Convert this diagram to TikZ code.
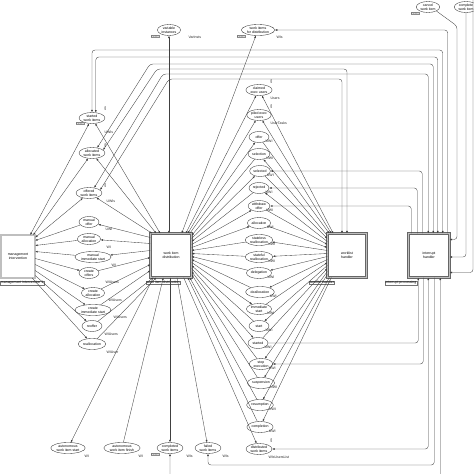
\documentclass[tikz,border=0pt]{standalone}
\usepackage{fontspec}
\setmainfont{Liberation Sans}
\usetikzlibrary{calc,arrows.meta,shapes.geometric}
\begin{document}
\begin{tikzpicture}[x=1pt,y=-1pt,
  every node/.style={font=\fontsize{3.5}{3.9}\selectfont},
  place/.style={draw=black!80, ellipse, line width=0.35pt, inner xsep=0.8pt, inner ysep=0.3pt, minimum width=20pt, minimum height=11pt, align=center, fill=white},
  trans/.style={draw=black!60, line width=0.4pt, double=black!25, double distance=1.6pt, minimum width=40pt, minimum height=44pt, align=center, fill=white},
  tagbox/.style={draw=black!55, line width=0.3pt, inner sep=0.5pt, fill=white, anchor=north west},
  ftag/.style={tagbox, draw=black!45, text=black!70, inner sep=0.3pt, font=\fontsize{2.4}{2.6}\selectfont},
  lbl/.style={inner sep=0.3pt, text=black!85},
  arc/.style={draw=black!75, line width=0.35pt, -{Latex[length=2.4pt,width=1.9pt]}},
  arcs/.style={draw=black!75, line width=0.35pt, {Latex[length=2.4pt,width=1.9pt]}-{Latex[length=2.4pt,width=1.9pt]}},
  route/.style={rounded corners=3pt},
]
\useasboundingbox (0,0) rectangle (474,474);
\fill[white] (0,0) rectangle (474,474);

% ---------- substitution transitions
\node[trans, minimum width=34pt, minimum height=43pt] (mi) at (18,256.5) {management\\intervention};
\node[trans, minimum width=41pt] (wid) at (171,255.5) {work item\\distribution};
\node[trans, minimum width=39pt] (wlh) at (347,255.5) {worklist\\handler};
\node[trans, minimum width=41pt] (ih) at (429,255.5) {interrupt\\handler};

% ---------- top places
\node[place] (vi) at (169,30) {variable\\instances};
\node[place] (wfd) at (258,30) {work items\\for distribution};
\node[place] (cwk) at (428,7) {cancel\\work item};
\node[place] (cmp) at (466,7) {complete\\work item};

% ---------- left column
\node[place] (swi) at (92,118) {started\\work items};
\node[place] (awi) at (92,153) {allocated\\work items};
\node[place] (owi) at (89,193) {offered\\work items};
\node[place] (mo) at (89,222) {manual\\offer};
\node[place] (ma) at (89,239) {manual\\allocation};
\node[place] (mis) at (93,257) {manual\\immediate start};
\node[place] (co) at (89,273) {create\\offers};
\node[place] (ca) at (93,293) {create\\allocation};
\node[place] (cis) at (93,310) {create\\immediate start};
\node[place] (ro) at (92,326) {reoffer};
\node[place] (ra) at (92,344) {reallocation};

% ---------- middle column
\node[place] (claimed) at (259,90) {claimed\\exec users};
\node[place] (piled) at (259,115) {piled exec\\users};
\node[place] (offer) at (259,137) {offer};
\node[place] (selection) at (259,154) {selection};
\node[place] (selected) at (260,171) {selected};
\node[place] (rejected) at (259,188) {rejected};
\node[place] (withdraw) at (259,206) {withdraw\\offer};
\node[place] (allocation) at (259,223) {allocation};
\node[place] (stateless) at (259,240) {stateless\\reallocation};
\node[place] (stateful) at (259,257) {stateful\\reallocation};
\node[place] (delegation) at (259,273) {delegation};
\node[place] (deallocation) at (260,292) {deallocation};
\node[place] (immstart) at (259,309) {immediate\\start};
\node[place] (start) at (259,326) {start};
\node[place] (startedm) at (258,343) {started};
\node[place] (stopexec) at (261,364) {stop\\execution};
\node[place] (suspension) at (261,383) {suspension};
\node[place] (resumption) at (260,405) {resumption};
\node[place] (completion) at (260,427) {completion};

% ---------- bottom places
\node[place] (aws) at (68,448) {autonomous\\work item start};
\node[place] (awf) at (122,448) {autonomous\\work item finish};
\node[place] (cwi) at (170,448) {completed\\work items};
\node[place] (fwi) at (208,448) {failed\\work items};
\node[place] (dwi) at (259,449) {distributed\\work items};

% ---------- tags of the transitions
\node[tagbox] (mitag) at (0.3,280.5) {management intervention 1};
\node[tagbox] (widtag) at (146,280.5) {work item distribution};
\node[tagbox] (wlhtag) at (309,280.5) {worklist handler};
\node[tagbox] (ihtag) at (385,280.5) {interrupt processing};

% ---------- fusion tags
\node[ftag] (vitag) at (151,35) {Fusion};
\node[ftag] (wfdtag) at (237,35) {Fusion};
\node[ftag] (cwktag) at (411,12) {Fusion};
\node[ftag] (switag) at (76,122) {Fusion};
\node[ftag] (cwitag) at (151,453) {Fusion};

% ---------- middle arcs (1: WID->p->WLH, 2: WLH->p->WID, 3: both ways)
\foreach \p/\lx/\ly/\rx/\ry/\m in {
  claimed/-6/-22/6/-22/3, piled/-4/-22/4/-22/3, offer/-2/-22/2/-22/1,
  selection/0/-20/0/-20/2, selected/0/-17/0/-17/1, rejected/0/-14/0/-14/2,
  withdraw/0/-11/0/-11/1, allocation/0/-8/0/-8/1, stateless/0/-5/0/-5/2,
  stateful/0/-2/0/-2/2, delegation/0/1/0/1/2, deallocation/0/4/0/4/2,
  immstart/0/7/0/7/1, start/0/10/0/10/2, startedm/0/13/0/13/1,
  stopexec/0/16/0/16/2, suspension/0/19/0/19/2, resumption/-2/22/2/22/2,
  completion/-4/22/4/22/2}{
  \ifcase\m\or
    \draw[arc] ($(wid.east)+(\lx,\ly)$) -- (\p);
    \draw[arc] (\p) -- ($(wlh.west)+(\rx,\ry)$);
  \or
    \draw[arc] ($(wlh.west)+(\rx,\ry)$) -- (\p);
    \draw[arc] (\p) -- ($(wid.east)+(\lx,\ly)$);
  \or
    \draw[arcs] ($(wid.east)+(\lx,\ly)$) -- (\p);
    \draw[arcs] (\p) -- ($(wlh.west)+(\rx,\ry)$);
  \fi
}

% ---------- left arcs (1: MI->p->WID, 2: WID->p->MI, 3: both ways)
\foreach \p/\lx/\ly/\rx/\ry/\m in {
  swi/-5/-21.5/10/-22/3, awi/-2/-21.5/6/-22/3, owi/0/-19/2/-22/3,
  mo/0/-16/0/-18/2, ma/0/-11/0/-12/2, mis/0/-5/0/-5/2,
  co/0/2/0/2/1, ca/0/8/0/9/1, cis/0/14/0/15/1,
  ro/0/19/3/22/1, ra/-3/21.5/6/22/1}{
  \ifcase\m\or
    \draw[arc] ($(mi.east)+(\lx,\ly)$) -- (\p);
    \draw[arc] (\p) -- ($(wid.west)+(\rx,\ry)$);
  \or
    \draw[arc] ($(wid.west)+(\rx,\ry)$) -- (\p);
    \draw[arc] (\p) -- ($(mi.east)+(\lx,\ly)$);
  \or
    \draw[arcs] ($(mi.east)+(\lx,\ly)$) -- (\p);
    \draw[arcs] (\p) -- ($(wid.west)+(\rx,\ry)$);
  \fi
}

% ---------- top and bottom arcs of the work item distribution
\draw[arcs] (vi) -- (vi |- wid.north);
\draw[arcs] (wfd) -- ($(wid.north east)+(-10,0)$);
\draw[arc] ($(wid.south west)+(3,0)$) -- (aws);
\draw[arc] (awf) -- ($(wid.south west)+(13,0)$);
\draw[arc] (wid.south -| cwi) -- (cwi);
\draw[arc] ($(wid.south)+(6,0)$) -- (fwi);
\draw[arc] ($(wid.south east)+(-8,0)$) -- (dwi);

% ---------- long routed arcs from the top of the handlers
\draw[arc, route] ($(ih.north east)+(-2,0)$) |- (wfd.east);
\draw[arcs, route] ($(ih.north east)+(-7,0)$) |- (swi.north |- 0,50) -- (swi.north);
\draw[arcs, route] ($(ih.north east)+(-12,0)$) |- (swi.55 |- 0,57) -- (swi.55);
\draw[arcs, route] ($(ih.north west)+(25,0)$) |- (150,64) -- (awi.45);
\draw[arcs, route] (wlh.north) |- (157,69) -- (awi.15);
\draw[arcs, route] ($(ih.north west)+(20,0)$) |- (163,74) -- (owi.45);
\draw[arcs, route] ($(wlh.north)+(-5,0)$) |- (169,79) -- (owi.15);
\draw[arc, route] ($(ih.north west)+(14,0)$) |- (selected.east);
\draw[arc, route] ($(ih.north west)+(9,0)$) |- (rejected.east);
\draw[arc, route] ($(ih.north west)+(3,0)$) |- (withdraw.east);

% ---------- routed arcs below the interrupt handler
\draw[arc, route] (startedm.east) -| ($(ih.south west)+(10,0)$);
\draw[arc, route] ($(ih.south west)+(15,0)$) |- (stopexec.east);
\draw[arcs, route] ($(ih.south west)+(20,0)$) |- (dwi.east);
\draw[arc, route] ($(ih.south west)+(26,0)$) |- (fwi.south |- 0,465) -- (fwi.south);
\draw[arcs, route] ($(ih.south west)+(32,0)$) |- (cwi.south |- 0,482) -- (cwi.south);

% ---------- arcs into the right side of the interrupt handler
\coordinate (c1) at (457,26);
\coordinate (c3) at (473,-5);
\draw[arc, route] (cwk.south east) -- (c1) |- ($(ih.east)+(0,-16)$);
\draw[arc, route] (cmp.south) |- ($(ih.east)+(0,1.5)$);
\draw[arc, route] (c3) |- ($(ih.east)+(0,17)$);

% ---------- inscriptions
\node[lbl, anchor=west] at (188,37) {VarInsts};
\node[lbl, anchor=west] at (276,37) {WIs};
\node[lbl, anchor=west] at (270,98) {Users};
\node[lbl, anchor=west] at (270,82) {[]};
\node[lbl, anchor=west] at (270,123) {UserTasks};
\node[lbl, anchor=west] at (270,107) {[]};
\foreach \p in {offer,selection,selected,rejected,withdraw,allocation,stateless,stateful,delegation,deallocation,immstart,start,startedm,stopexec,suspension,resumption,completion}
  \node[lbl, anchor=north west] at ($(\p.south east)+(-1,-1)$) {UWI};
\node[lbl, anchor=west] at (270,441) {[]};
\node[lbl, anchor=west] at (268,457) {WIsUsersList};
\node[lbl, anchor=west] at (84,456) {WI};
\node[lbl, anchor=west] at (138,456) {WI};
\node[lbl, anchor=west] at (186,456) {WIs};
\node[lbl, anchor=west] at (222,456) {WIs};
\node[lbl, anchor=west] at (104,109) {[]};
\node[lbl, anchor=west] at (104,132) {UWIs};
\node[lbl, anchor=west] at (104,146) {[]};
\node[lbl, anchor=west] at (104,186) {[]};
\node[lbl, anchor=west] at (106,201) {UWIs};
\node[lbl, anchor=west] at (105,229) {UWI};
\node[lbl, anchor=west] at (106,247) {WI};
\node[lbl, anchor=west] at (111,265) {WI};
\node[lbl, anchor=west] at (105,282) {WIUsers};
\node[lbl, anchor=west] at (108,300) {WIUsers};
\node[lbl, anchor=west] at (113,317) {WIUsers};
\node[lbl, anchor=west] at (104,334) {WIUsers};
\node[lbl, anchor=west] at (106,352) {WIUser};
\end{tikzpicture}
\end{document}
